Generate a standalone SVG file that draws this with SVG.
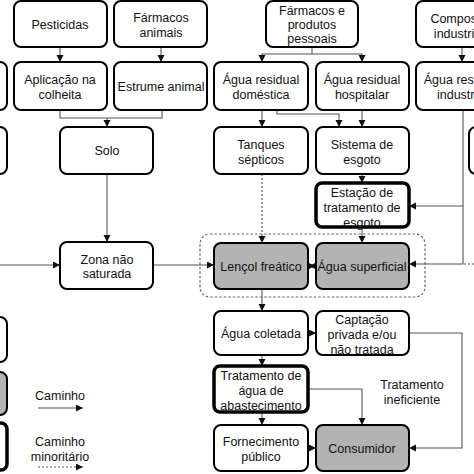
<svg xmlns="http://www.w3.org/2000/svg" width="474" height="474" viewBox="0 0 474 474">
<defs>
<marker id="ar" markerUnits="userSpaceOnUse" markerWidth="8" markerHeight="8" refX="7" refY="3.5" orient="auto">
<path d="M0,0 L7,3.5 L0,7 z" fill="#111"/>
</marker>
<marker id="as" markerUnits="userSpaceOnUse" markerWidth="8" markerHeight="8" refX="0" refY="3.5" orient="auto">
<path d="M7,0 L0,3.5 L7,7 z" fill="#111"/>
</marker>
<style>
.b{fill:#fff;stroke:#000;stroke-width:2}
.g{fill:#b3b3b3;stroke:#000;stroke-width:2}
.t{fill:#fff;stroke:#000;stroke-width:3.5}
.c{fill:none;stroke:#555;stroke-width:1.1}
.d{fill:none;stroke:#555;stroke-width:1.1;stroke-dasharray:2,2}
text{font-family:"Liberation Sans",Arial,sans-serif;font-size:12.5px;fill:#111;text-anchor:middle}
</style>
</defs>
<rect width="474" height="474" fill="#fff"/>

<g id="group-box">
<rect x="200" y="234" width="225" height="63" rx="10" fill="none" stroke="#666" stroke-width="1.2" stroke-dasharray="2.5,2"/>
</g>

<g id="connectors">
<path class="c" d="M60,47 V62" marker-end="url(#ar)"/>
<path class="c" d="M161,47 V62" marker-end="url(#ar)"/>
<path class="c" d="M312,47 V54 M262,54 H362"/>
<path class="c" d="M262,54 V62" marker-end="url(#ar)"/>
<path class="c" d="M362,54 V62" marker-end="url(#ar)"/>
<path class="c" d="M462,47 V62" marker-end="url(#ar)"/>
<path class="c" d="M60,110 V118 H162 V110"/>
<path class="c" d="M107,118 V127" marker-end="url(#ar)"/>
<path class="c" d="M107,174 V242" marker-end="url(#ar)"/>
<path class="c" d="M0,265 H60" marker-end="url(#ar)"/>
<path class="c" d="M153,265 H214" marker-end="url(#ar)"/>
<path class="c" d="M262,110 V127" marker-end="url(#ar)"/>
<path class="c" d="M277,110 V114 H339 V127" marker-end="url(#ar)"/>
<path class="c" d="M362,110 V127" marker-end="url(#ar)"/>
<path class="c" d="M362,174 V183" marker-end="url(#ar)"/>
<path class="c" d="M362,227 V243" marker-end="url(#ar)"/>
<path class="d" d="M262,174 V243" marker-end="url(#ar)"/>
<path class="c" d="M463,110 V264 H409" marker-end="url(#ar)"/>
<path class="c" d="M463,206 H409" marker-end="url(#ar)"/>
<path class="d" d="M474,264 H463"/>
<path class="c" d="M309,266 H315" marker-start="url(#as)" marker-end="url(#ar)"/>
<path class="c" d="M262,289 V311" marker-end="url(#ar)"/>
<path class="c" d="M308,333 H316" marker-end="url(#ar)"/>
<path class="c" d="M409,333 H462 V448 H409" marker-end="url(#ar)"/>
<path class="c" d="M262,355 V366" marker-end="url(#ar)"/>
<path class="c" d="M308,389 H362 V425" marker-end="url(#ar)"/>
<path class="c" d="M262,412 V425" marker-end="url(#ar)"/>
<path class="c" d="M308,448 H316" marker-end="url(#ar)"/>
<path class="c" d="M38,408 H83" marker-end="url(#ar)"/>
<path class="d" d="M38,467 H83" marker-end="url(#ar)"/>
</g>

<g id="pesticidas"><rect class="b" x="14" y="1" width="93" height="46" rx="7"/><text x="60" y="28.5">Pesticidas</text></g>
<g id="farmacos-animais"><rect class="b" x="114" y="1" width="93" height="46" rx="7"/><text x="161" y="21.5">Fármacos</text><text x="161" y="36.5">animais</text></g>
<g id="farmacos-pessoais"><rect class="b" x="266" y="1" width="92" height="46" rx="7"/><text x="312" y="14.5">Fármacos e</text><text x="312" y="28.5">produtos</text><text x="312" y="42.5">pessoais</text></g>
<g id="compostos"><rect class="b" x="416" y="1" width="93" height="46" rx="7"/><text x="462" y="22.5">Compostos</text><text x="462" y="37.5">industriais</text></g>

<g id="left-row2"><rect class="b" x="-86" y="62" width="93" height="48" rx="7"/></g>
<g id="aplicacao"><rect class="b" x="14" y="62" width="93" height="48" rx="7"/><text x="60" y="83.5">Aplicação na</text><text x="60" y="98.5">colheita</text></g>
<g id="estrume"><rect class="b" x="114" y="62" width="93" height="48" rx="7"/><text x="161" y="91">Estrume animal</text></g>
<g id="domestica"><rect class="b" x="214" y="62" width="94" height="48" rx="7"/><text x="261" y="84">Água residual</text><text x="261" y="99">doméstica</text></g>
<g id="hospitalar"><rect class="b" x="316" y="62" width="93" height="48" rx="7"/><text x="362" y="84">Água residual</text><text x="362" y="99">hospitalar</text></g>
<g id="industrial"><rect class="b" x="416" y="62" width="93" height="48" rx="7"/><text x="462" y="84">Água residual</text><text x="462" y="99">industrial</text></g>

<g id="left-row3"><rect class="b" x="-86" y="127" width="93" height="47" rx="7"/></g>
<g id="solo"><rect class="b" x="60" y="127" width="93" height="47" rx="7"/><text x="107" y="155">Solo</text></g>
<g id="tanques"><rect class="b" x="214" y="127" width="94" height="47" rx="7"/><text x="261" y="148.5">Tanques</text><text x="261" y="163.5">sépticos</text></g>
<g id="sistema"><rect class="b" x="316" y="127" width="93" height="47" rx="7"/><text x="362" y="148.5">Sistema de</text><text x="362" y="163.5">esgoto</text></g>
<g id="right-row3"><rect class="b" x="469" y="127" width="93" height="47" rx="7"/></g>

<g id="estacao"><rect class="t" x="316" y="183" width="93" height="44" rx="6"/><text x="362" y="196.5">Estação de</text><text x="362" y="211.5">tratamento de</text><text x="362" y="226.5">esgoto</text></g>

<g id="zona"><rect class="b" x="60" y="242" width="93" height="47" rx="7"/><text x="107" y="263.5">Zona não</text><text x="107" y="278">saturada</text></g>
<g id="lencol"><rect class="g" x="214" y="243" width="94" height="46" rx="7"/><text x="261" y="270.5">Lençol freático</text></g>
<g id="superficial"><rect class="g" x="316" y="243" width="93" height="46" rx="7"/><text x="362" y="270.5">Água superficial</text></g>

<g id="coletada"><rect class="b" x="214" y="311" width="94" height="44" rx="7"/><text x="261" y="337.5">Água coletada</text></g>
<g id="captacao"><rect class="b" x="316" y="311" width="93" height="44" rx="7"/><text x="362" y="323.5">Captação</text><text x="362" y="338.5">privada e/ou</text><text x="362" y="353.5">não tratada</text></g>

<g id="tratamento-agua"><rect class="t" x="214" y="366" width="94" height="46" rx="6"/><text x="261" y="379.5">Tratamento de</text><text x="261" y="394.5">água de</text><text x="261" y="409.5">abastecimento</text></g>
<g id="fornecimento"><rect class="b" x="214" y="425" width="94" height="46" rx="7"/><text x="261" y="445.5">Fornecimento</text><text x="261" y="460.5">público</text></g>
<g id="consumidor"><rect class="g" x="316" y="425" width="93" height="46" rx="7"/><text x="362" y="452.5">Consumidor</text></g>

<g id="tratamento-ineficiente-label"><text x="412" y="388.5">Tratamento</text><text x="412" y="403.5">ineficiente</text></g>

<g id="legend">
<rect class="b" x="-86" y="317" width="93" height="45" rx="7"/>
<rect class="g" x="-86" y="372" width="93" height="43" rx="7"/>
<rect class="t" x="-86" y="423" width="93" height="47" rx="6"/>
<text x="60" y="399.5">Caminho</text>
<text x="60" y="445.5">Caminho</text>
<text x="60" y="460.5">minoritário</text>
</g>
</svg>
